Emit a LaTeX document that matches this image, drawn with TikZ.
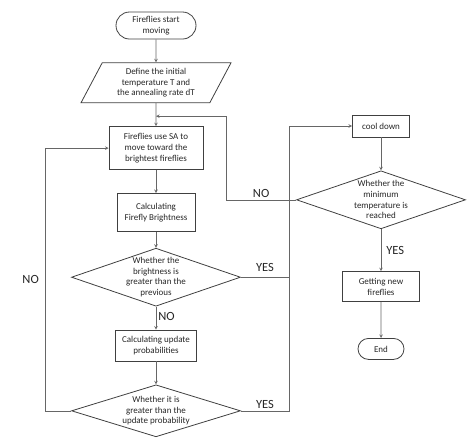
\documentclass[tikz,border=0pt]{standalone}
\usepackage{fontspec}
\setmainfont{Carlito}
\usepackage{tikz}
\usetikzlibrary{shapes,arrows,positioning}

\begin{document}
\begin{tikzpicture}[
    x=1pt, y=1pt,
    node distance=23pt,
    font=\fontsize{9}{10.7}\selectfont,
    text=black!85,
    block/.style={rectangle, draw=black!75, line width=0.8pt, align=center, inner sep=0pt},
    term/.style={rounded rectangle, draw=black!75, line width=0.8pt, align=center, inner sep=0pt},
    io/.style={trapezium, trapezium left angle=54, trapezium right angle=126, trapezium stretches body=true, draw=black!75, line width=0.8pt, align=center, inner sep=0pt, minimum width=150pt, minimum height=40pt},
    decision/.style={diamond, draw=black!75, line width=0.8pt, inner sep=0pt, minimum width=169pt, minimum height=58pt},
    arrow/.style={->, >=stealth, draw=black!60, line width=0.6pt},
    tag/.style={font=\fontsize{12.5}{14}\selectfont, inner sep=2pt}
]
\useasboundingbox (0,0) rectangle (474,-440);

\node[term, minimum width=80pt, minimum height=27pt] (start) at (156,-25.5) {Fireflies start\\moving};
\node[io, below=of start] (init) {Define the initial\\temperature T and\\the annealing rate dT};
\node[block, below=of init, minimum width=94pt, minimum height=43pt] (move) {Fireflies use SA to\\move toward the\\brightest fireflies};
\node[block, below=of move, minimum width=78pt, minimum height=38pt] (bright) {Calculating\\Firefly Brightness};
\node[decision, below=16pt of bright, label={[align=center]center:Whether the\\brightness is\\greater than the\\previous}] (brighter) {};
\node[block, below=of brighter, minimum width=81pt, minimum height=31pt] (update) {Calculating update\\probabilities};
\node[decision, below=of update, minimum height=52pt, label={[align=center]center:Whether it is\\greater than the\\update probability}] (greater) {};

\node[block, minimum width=57pt, minimum height=22pt] (cool) at (381,-126) {cool down};
\node[decision, below=33pt of cool, label={[align=center]center:Whether the\\minimum\\temperature is\\reached}] (mintemp) {};
\node[block, below=42pt of mintemp, minimum width=77pt, minimum height=30pt] (new) {Getting new\\fireflies};
\node[term, below=36pt of new, minimum width=46pt, minimum height=21pt] (end) {End};

\coordinate (rail) at (289,0);
\coordinate[above=10pt of move] (join);

\draw[arrow] (start) -- (init);
\draw[arrow] (init) -- (move);
\draw[arrow] (move) -- (bright);
\draw[arrow] (bright) -- (brighter);
\draw[arrow] (brighter) -- node[tag, right, pos=0.45]{NO} (update);
\draw[arrow] (update) -- (greater);
\draw[arrow] (greater.west) -- ++(-26,0) |- node[tag, left, pos=0.25, xshift=-4pt]{NO} (move.west);

\draw[arrow] (greater.east) -- node[tag, above]{YES} (greater.east -| rail) |- (cool.west);
\draw[draw=black!60, line width=0.6pt] (brighter.east) -- node[tag, above, yshift=3pt]{YES} (brighter.east -| rail);

\draw[arrow] (cool) -- (mintemp);
\draw[arrow] (mintemp.west) -- node[tag, above]{NO} ++(-70,0) |- (join);
\draw[arrow] (mintemp) -- node[tag, right, xshift=3pt]{YES} (new);
\draw[arrow] (new) -- (end);

\end{tikzpicture}
\end{document}
